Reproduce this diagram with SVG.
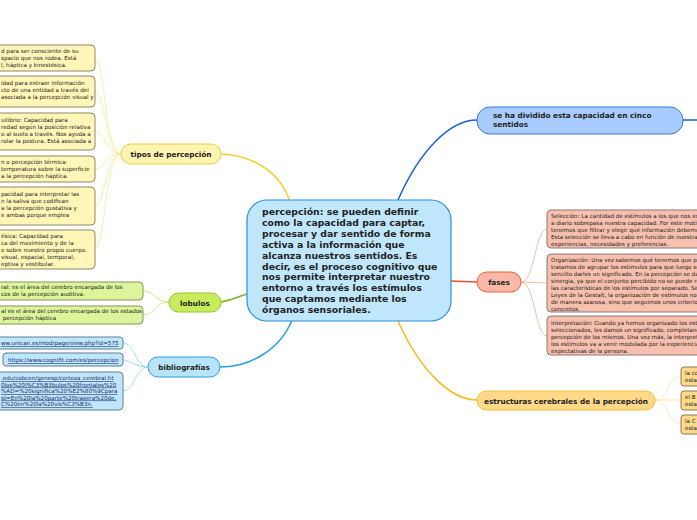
<svg xmlns="http://www.w3.org/2000/svg" width="697" height="520" viewBox="0 0 697 520">
<style>
text{font-family:"DejaVu Sans","Liberation Sans",sans-serif;fill:#222}
.s{font-size:5.6px}
.b{font-size:7.3px;font-weight:bold}
.c{font-size:9.3px;font-weight:bold}
.u{font-size:5.6px;text-decoration:underline;fill:#1a2a6a}
.y{fill:#fff6b8;stroke:#8d8a6a;stroke-width:1}
.g{fill:#dcf59a;stroke:#8a9060;stroke-width:1}
.l{fill:#bfe6fa;stroke:#5a8090;stroke-width:1}
.p{fill:#f7bfad;stroke:#8a7a76;stroke-width:1}
.o{fill:#ffd98a;stroke:#8a7a56;stroke-width:1}
.cn{fill:none;stroke-width:1.5}
.cs{fill:none;stroke-width:0.8}
</style>
<g id="connectors">
<path class="cn" stroke="#f0d020" d="M290,202 C280,170 250,155 221,154"/>
<path class="cn" stroke="#7ab820" d="M247,294 C235,298 228,301 221,302"/>
<path class="cn" stroke="#2aa0e0" d="M292,320 C280,350 250,367 220,367"/>
<path class="cn" stroke="#1a60d0" d="M398,200 C420,150 450,120 477,120"/>
<path class="cn" stroke="#1a60d0" d="M683,120 L697,120"/>
<path class="cn" stroke="#f05020" d="M451,281 L477,282"/>
<path class="cn" stroke="#f8b820" d="M398,321 C420,370 450,400 477,400"/>
<g stroke="#f5e890">
<path class="cs" d="M121,154 C105,154 105,58 95,58"/><path class="cs" d="M121,154 C105,154 105,92 95,92"/><path class="cs" d="M121,154 C105,154 105,131 95,131"/><path class="cs" d="M121,154 C105,154 105,169 95,169"/><path class="cs" d="M121,154 C105,154 105,206 95,206"/><path class="cs" d="M121,154 C105,154 105,249 95,249"/>
</g>
<g stroke="#c8e070"><path class="cs" d="M169,302 C155,302 155,291 143,291"/><path class="cs" d="M169,302 C155,302 155,315 143,315"/></g>
<g stroke="#8acff0"><path class="cs" d="M148,367 C135,367 135,343 123,343"/><path class="cs" d="M148,367 C135,367 130,360 123,360"/><path class="cs" d="M148,367 C135,367 135,391 123,391"/></g>
<g stroke="#f5a890"><path class="cs" d="M521,282 C535,282 535,229 547,229"/><path class="cs" d="M521,282 L547,283"/><path class="cs" d="M521,282 C535,282 535,336 547,336"/></g>
<g stroke="#fbe0a0"><path class="cs" d="M655,400 C668,400 668,376 681,376"/><path class="cs" d="M655,400 L681,400"/><path class="cs" d="M655,400 C668,400 668,424 681,424"/></g>
</g>
<g id="center">
<rect x="247" y="200" width="204" height="121" rx="20" fill="#bfe6fa" stroke="#2a90d8" stroke-width="1.2"/>
<text class="c"><tspan x="262" y="215">percepción: se pueden definir</tspan><tspan x="262" y="225.9">como la capacidad para captar,</tspan><tspan x="262" y="236.8">procesar y dar sentido de forma</tspan><tspan x="262" y="247.7">activa a la información que</tspan><tspan x="262" y="258.6">alcanza nuestros sentidos. Es</tspan><tspan x="262" y="269.5">decir, es el proceso cognitivo que</tspan><tspan x="262" y="280.4">nos permite interpretar nuestro</tspan><tspan x="262" y="291.3">entorno a través los estímulos</tspan><tspan x="262" y="302.2">que captamos mediante los</tspan><tspan x="262" y="313.1">órganos sensoriales.</tspan></text>
</g>
<g id="tipos">
<rect x="121" y="144" width="100" height="20" rx="10" fill="#fff4b0" stroke="#e8d040"/>
<text class="b" x="171" y="157" text-anchor="middle">tipos de percepción</text>
</g>
<g id="tipos-items">
<rect class="y" x="-20" y="45" width="115" height="26" rx="4"/>
<text class="s"><tspan x="1" y="53">d para ser consciente de su</tspan><tspan x="1" y="60">spacio que nos rodea. Está</tspan><tspan x="1" y="67">l, háptica y kinestésica.</tspan></text>
<rect class="y" x="-20" y="76" width="115" height="31" rx="4"/>
<text class="s"><tspan x="1" y="85">idad para extraer información</tspan><tspan x="1" y="92">cto de una entidad a través del</tspan><tspan x="1" y="99">asociada a la percepción visual y</tspan></text>
<rect class="y" x="-20" y="113" width="115" height="37" rx="4"/>
<text class="s"><tspan x="1" y="122">uilibrio: Capacidad para</tspan><tspan x="1" y="129">redad según la posición relativa</tspan><tspan x="1" y="136">o al suelo a través. Nos ayuda a</tspan><tspan x="1" y="143">rolar la postura. Está asociada a</tspan></text>
<rect class="y" x="-20" y="156" width="115" height="26" rx="4"/>
<text class="s"><tspan x="1" y="164">n o percepción térmica:</tspan><tspan x="1" y="171">temperatura sobre la superficie</tspan><tspan x="1" y="178">a la percepción háptica.</tspan></text>
<rect class="y" x="-20" y="187" width="115" height="38" rx="4"/>
<text class="s"><tspan x="1" y="196">pacidad para interpretar las</tspan><tspan x="1" y="203">n la saliva que codifican</tspan><tspan x="1" y="210">a la percepción gustativa y</tspan><tspan x="1" y="217">e ambas porque emplea</tspan></text>
<rect class="y" x="-20" y="230" width="115" height="39" rx="4"/>
<text class="s"><tspan x="1" y="238">ésica: Capacidad para</tspan><tspan x="1" y="245">ca del movimiento y de la</tspan><tspan x="1" y="252">o sobre nuestro propio cuerpo.</tspan><tspan x="1" y="259">visual, espacial, temporal,</tspan><tspan x="1" y="266">eptiva y vestibular.</tspan></text>
</g>
<g id="lobulos">
<rect x="169" y="293" width="52" height="19" rx="9.5" fill="#c8ec5c" stroke="#98c830"/>
<text class="b" x="195" y="305.5" text-anchor="middle">lobulos</text>
<rect class="g" x="-20" y="282" width="163" height="18" rx="4"/>
<text class="s"><tspan x="1" y="289">ral: es el área del cerebro encargada de los</tspan><tspan x="1" y="296">cos de la percepción auditiva.</tspan></text>
<rect class="g" x="-20" y="306" width="163" height="18" rx="4"/>
<text class="s"><tspan x="1" y="313">al es el área del cerebro encargada de los estados</tspan><tspan x="1" y="320"> percepción háptica</tspan></text>
</g>
<g id="bibliografias">
<rect x="148" y="357" width="72" height="20" rx="10" fill="#b8e4fa" stroke="#2aa0e0"/>
<text class="b" x="184" y="370" text-anchor="middle">bibliografías</text>
<rect class="l" x="-20" y="337" width="143" height="12" rx="3"/>
<text class="u" x="1" y="345">ww.unican.es/mod/page/view.php?id=575</text>
<rect class="l" x="3" y="353" width="120" height="13" rx="3"/>
<text class="u" x="8" y="362">https://www.cognifit.com/es/percepcion</text>
<rect class="l" x="-20" y="372" width="143" height="38" rx="4"/>
<text class="u"><tspan x="1" y="380">.edu/cobcen/genesp/corteza_cerebral.ht</tspan><tspan x="1" y="386.5">0los%20l%C3%B3bulos%20frontales%20</tspan><tspan x="1" y="393">%AD=%20significa%20%E2%80%9Cpara</tspan><tspan x="1" y="399.5">st=En%20la%20parte%20trasera%20de,</tspan><tspan x="1" y="406">C%20en%20la%20vis%C3%B3n.</tspan></text>
</g>
<g id="cinco-sentidos">
<rect x="477" y="107" width="206" height="27" rx="13" fill="#a8ccff" stroke="#3a78d8"/>
<text class="b"><tspan x="493" y="118">se ha dividido esta capacidad en cinco</tspan><tspan x="493" y="127">sentidos</tspan></text>
</g>
<g id="fases">
<rect x="477" y="272" width="44" height="20" rx="10" fill="#f9b8a8" stroke="#f06030"/>
<text class="b" x="499" y="285" text-anchor="middle">fases</text>
<rect class="p" x="547" y="210" width="170" height="38" rx="4"/>
<text class="s"><tspan x="551" y="218">Selección: La cantidad de estímulos a los que nos exponemos</tspan><tspan x="551" y="225">a diario sobrepasa nuestra capacidad. Por este motivo</tspan><tspan x="551" y="232">tenemos que filtrar y elegir qué información debemos</tspan><tspan x="551" y="239">Esta selección se lleva a cabo en función de nuestras</tspan><tspan x="551" y="246">experiencias, necesidades y preferencias.</tspan></text>
<rect class="p" x="547" y="254" width="170" height="58" rx="4"/>
<text class="s"><tspan x="551" y="262">Organización: Una vez sabemos qué tenemos que percibir,</tspan><tspan x="551" y="269">tratamos de agrupar los estímulos para que luego sea más</tspan><tspan x="551" y="276">sencillo darles un significado. En la percepción se da</tspan><tspan x="551" y="283">sinergia, ya que el conjunto percibido no se puede reducir a</tspan><tspan x="551" y="290">las características de los estímulos por separado. Según las</tspan><tspan x="551" y="297">Leyes de la Gestalt, la organización de estímulos no se da</tspan><tspan x="551" y="304">de manera azarosa, sino que seguimos unos criterios</tspan><tspan x="551" y="311">concretos.</tspan></text>
<rect class="p" x="547" y="316" width="170" height="39" rx="4"/>
<text class="s"><tspan x="551" y="325">Interpretación: Cuando ya hemos organizado los estímulos</tspan><tspan x="551" y="332">seleccionados, les damos un significado, completando la</tspan><tspan x="551" y="339">percepción de los mismos. Una vez más, la interpretación de</tspan><tspan x="551" y="346">los estímulos va a venir modulada por la experiencia y las</tspan><tspan x="551" y="353">expectativas de la persona.</tspan></text>
</g>
<g id="estructuras">
<rect x="477" y="391" width="178" height="19" rx="9.5" fill="#ffd98a" stroke="#f5c030"/>
<text class="b" x="566" y="403.5" text-anchor="middle">estructuras cerebrales de la percepción</text>
<rect class="o" x="681" y="367" width="40" height="19" rx="3"/>
<text class="s"><tspan x="685" y="375">la co</tspan><tspan x="685" y="382">esta</tspan></text>
<rect class="o" x="681" y="391" width="40" height="19" rx="3"/>
<text class="s"><tspan x="685" y="399">el B</tspan><tspan x="685" y="406">esta</tspan></text>
<rect class="o" x="681" y="415" width="40" height="19" rx="3"/>
<text class="s"><tspan x="685" y="423">la C</tspan><tspan x="685" y="430">esta</tspan></text>
</g>
</svg>
